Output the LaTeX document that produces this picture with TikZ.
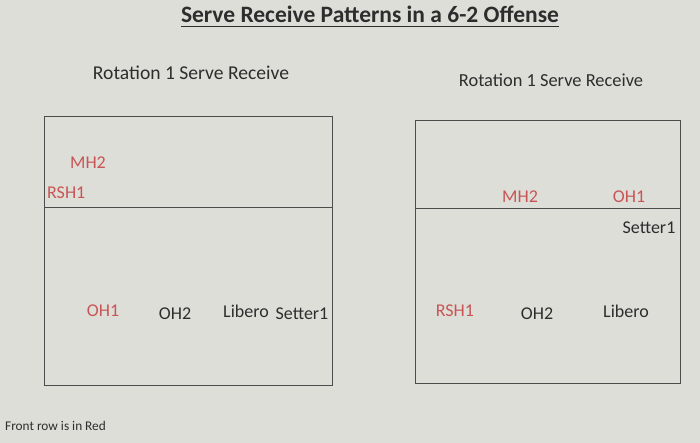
\documentclass[tikz,border=0pt]{standalone}
\usepackage{fontspec}
\setmainfont{Carlito}
\definecolor{slide}{RGB}{222,222,217}
\definecolor{ink}{RGB}{45,45,45}
\definecolor{front}{RGB}{200,85,85}
\tikzset{
    court/.style = {draw = ink!85, line width = 1pt},
    player/.style = {text = ink, font = \fontsize{18}{20}\selectfont, inner sep = 0pt},
    frontrow/.style = {player, text = front}
}
\begin{document}
\begin{tikzpicture}[x = 1pt, y = -1pt]
        \fill[slide] (0, 0) rectangle (700, 443);
        \useasboundingbox (0, 0) rectangle (700, 443);

        \node[text = ink, inner sep = 0pt, font = \bfseries\fontsize{23.5}{26}\selectfont] (title) at (370, 14) {Serve Receive Patterns in a 6-2 Offense};
        \draw[ink, line width = 1pt] ([yshift = -3.5pt]title.south west) -- ([yshift = -3.5pt]title.south east);

        % left court
        \node[text = ink, inner sep = 0pt, font = \fontsize{19.6}{22}\selectfont] (lhead) at (191, 73) {Rotation 1 Serve Receive};
        \draw[court] (44, 117) rectangle (332, 385);
        \draw[court] (44, 208) -- (332, 208);
        \node[frontrow] (lmh) at (88, 163) {MH2};
        \node[frontrow, right] (lrsh) at (47, 193) {RSH1};
        \node[frontrow] (loh1) at (103, 311) {OH1};
        \node[player] (loh2) at (175, 314) {OH2};
        \node[player] (llib) at (246, 311) {Libero};
        \node[player] (lset) at (302, 314) {Setter1};

        % right court
        \node[text = ink, inner sep = 0pt, font = \fontsize{18.4}{21}\selectfont] (rhead) at (551, 80) {Rotation 1 Serve Receive};
        \draw[court] (415, 121) rectangle (680, 383);
        \draw[court] (415, 209) -- (680, 209);
        \node[frontrow] (rmh) at (520, 197) {MH2};
        \node[frontrow] (roh1) at (629, 197) {OH1};
        \node[player] (rset) at (649, 228) {Setter1};
        \node[frontrow] (rrsh) at (455, 311) {RSH1};
        \node[player] (roh2) at (537, 314) {OH2};
        \node[player] (rlib) at (626, 311) {Libero};

        \node[text = ink, inner sep = 0pt, right, font = \fontsize{13.3}{15}\selectfont] (note) at (5, 426) {Front row is in Red};
    \end{tikzpicture}
\end{document}
